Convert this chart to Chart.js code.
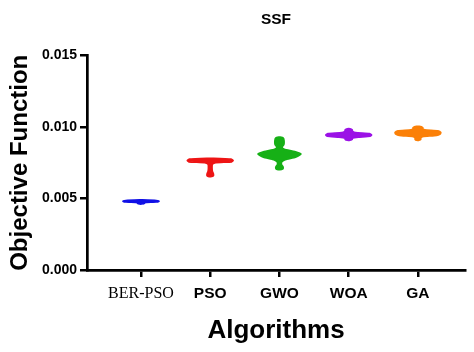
<!DOCTYPE html>
<html>
<head>
<meta charset="utf-8">
<script src="https://cdn.jsdelivr.net/npm/chart.js@4.4.1/dist/chart.umd.min.js"></script>
<style>
  html, body { margin: 0; padding: 0; background: #fff; }
  #wrap { width: 474px; height: 352px; }
</style>
</head>
<body>
<div id="wrap"><canvas id="ssfChart" width="474" height="352"></canvas></div>
<script>
// --- data ---
const algorithms = ['BER-PSO', 'PSO', 'GWO', 'WOA', 'GA'];
const colors = ['#1010e6', '#ee1515', '#16b016', '#9b12e6', '#fb8008'];
const yTicks = [0, 0.005, 0.010, 0.015];

// violin outlines: objective values (low -> high) and half widths (in category units)
const violinY = [
    [0.00462, 0.00467, 0.00472, 0.00476, 0.00481, 0.00486, 0.00490],
    [0.00653, 0.00660, 0.00672, 0.00690, 0.00715, 0.00740, 0.00751, 0.00757, 0.00766, 0.00775, 0.00781],
    [0.00702, 0.00708, 0.00722, 0.00735, 0.00755, 0.00772, 0.00790, 0.00810, 0.00828, 0.00844, 0.00858, 0.00872, 0.00885, 0.00905, 0.00922, 0.00929],
    [0.00908, 0.00914, 0.00922, 0.00929, 0.00936, 0.00945, 0.00954, 0.00961, 0.00970, 0.00980, 0.00988],
    [0.00908, 0.00915, 0.00925, 0.00934, 0.00942, 0.00952, 0.00962, 0.00973, 0.00980, 0.00988, 0.00996, 0.01004]
];
const violinW = [
    [0.02, 0.05, 0.05, 0.22, 0.26, 0.22, 0.02],
    [0.015, 0.045, 0.045, 0.03, 0.025, 0.03, 0.08, 0.31, 0.33, 0.30, 0.05],
    [0.02, 0.05, 0.05, 0.03, 0.03, 0.08, 0.23, 0.31, 0.22, 0.07, 0.03, 0.055, 0.065, 0.065, 0.055, 0.01],
    [0.02, 0.05, 0.05, 0.14, 0.31, 0.33, 0.30, 0.10, 0.055, 0.05, 0.02],
    [0.02, 0.04, 0.04, 0.07, 0.27, 0.32, 0.33, 0.29, 0.10, 0.07, 0.07, 0.02]
];
// GWO quartile / median lines (white, dashed)
const gwoLines = [0.00803, 0.00813, 0.00823];
const gwoLineHalf = [0.18, 0.24, 0.18];

// build closed outlines
const datasets = algorithms.map((name, i) => {
    const ys = violinY[i], ws = violinW[i];
    const pts = [];
    ys.forEach((y, k) => pts.push({ x: i + ws[k], y: y }));
    for (let k = ys.length - 1; k >= 0; k--) pts.push({ x: i - ws[k], y: ys[k] });
    pts.push(pts[0]);
    return {
        label: name,
        data: pts,
        showLine: true,
        fill: 'shape',
        backgroundColor: colors[i],
        borderColor: colors[i],
        borderWidth: 1.8,
        pointRadius: 0,
        tension: 0.15
    };
});
gwoLines.forEach((y, k) => {
    datasets.push({
        label: 'gwo-q' + k,
        data: [{ x: 2 - gwoLineHalf[k], y: y }, { x: 2 + gwoLineHalf[k], y: y }],
        showLine: true,
        fill: false,
        borderColor: '#ffffff',
        borderWidth: 1,
        borderDash: [3, 2],
        pointRadius: 0
    });
});

const boldSans = size => ({ family: '"Liberation Sans", Arial, sans-serif', weight: 'bold', size: size });

new Chart(document.getElementById('ssfChart'), {
    type: 'scatter',
    data: { datasets: datasets },
    options: {
        responsive: false,
        animation: false,
        layout: { padding: { left: 0, right: 9, top: 0, bottom: 0 } },
        plugins: {
            legend: { display: false },
            tooltip: { enabled: false },
            title: {
                display: true,
                text: 'SSF',
                fullSize: false,
                color: '#000',
                font: boldSans(15.5),
                padding: { top: 10, bottom: 27 }
            }
        },
        scales: {
            x: {
                type: 'linear',
                min: -0.78,
                max: 4.68,
                afterBuildTicks: s => { s.ticks = algorithms.map((_, i) => ({ value: i })); },
                afterFit: s => { s.height = 82; },
                ticks: {
                    color: '#000',
                    padding: 7,
                    autoSkip: false,
                    maxRotation: 0,
                    callback: v => algorithms[v],
                    font: ctx => ctx.index === 0
                        ? { family: '"Liberation Serif", "Times New Roman", serif', size: 16 }
                        : boldSans(15.5)
                },
                grid: { display: true, drawOnChartArea: false, drawTicks: true, tickLength: 7, color: '#000', lineWidth: 2.5 },
                border: { display: true, color: '#000', width: 2.7 },
                title: { display: true, text: 'Algorithms', color: '#000', font: boldSans(26), padding: { top: 4, bottom: 6 } }
            },
            y: {
                min: 0,
                max: 0.015,
                afterBuildTicks: s => { s.ticks = yTicks.map(v => ({ value: v })); },
                afterFit: s => { s.width = 87; },
                ticks: {
                    color: '#000',
                    padding: 3,
                    font: boldSans(14),
                    callback: v => v.toFixed(3)
                },
                grid: { display: true, drawOnChartArea: false, drawTicks: true, tickLength: 7, color: '#000', lineWidth: 2.5 },
                border: { display: true, color: '#000', width: 2.7 },
                title: { display: true, text: 'Objective Function', color: '#000', font: boldSans(24), padding: { top: 6, bottom: 4 } }
            }
        }
    }
});
</script>
</body>
</html>
